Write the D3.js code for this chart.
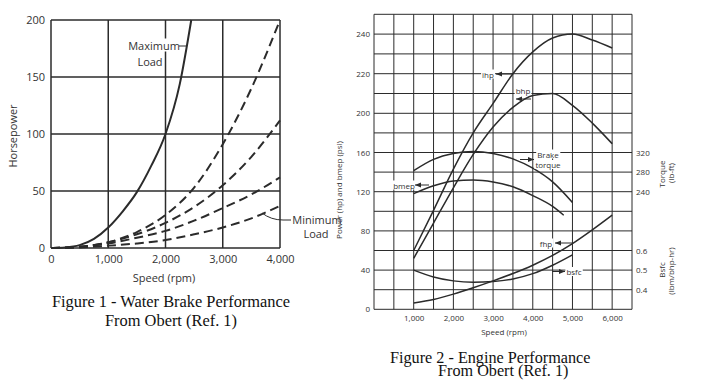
<!DOCTYPE html>
<html>
<head>
<meta charset="utf-8">
<script src="https://cdn.jsdelivr.net/npm/d3@7/dist/d3.min.js"></script>
<style>
  body { margin: 0; background: #fff; }
  svg { display: block; background: #fff; }
  .chart text { font-family: "Open Sans", sans-serif; fill: #333; }
  .caption { font-family: "Liberation Serif", "Times New Roman", serif; fill: #111; }
</style>
</head>
<body>
<svg id="fig" width="705" height="384"></svg>
<script>
// ---- Figure 1 data (water brake) ----
var wbTicksX = [0, 1000, 2000, 3000, 4000];
var wbTicksY = [0, 50, 100, 150, 200];
var maxLoadRpm = [0, 250, 500, 750, 1000, 1250, 1500, 1750, 2000, 2250, 2450];
var maxLoadHp = [0, 0.5, 2.5, 8, 18, 32, 49, 72, 100, 144, 200];
var partLoadRpm = [0, 500, 1000, 1500, 2000, 2500, 3000, 3500, 4000];
var partLoadA = [0, 1, 5, 14, 29, 53, 91, 140, 200];
var partLoadB = [0, 1, 5, 12, 22, 36, 55, 80, 112];
var partLoadC = [0, 1, 4, 9, 15, 24, 35, 47, 62];
var partLoadD = [0, 0.5, 2, 4, 7, 12, 18, 26, 37];

// ---- Figure 2 data (engine performance) ----
var engTicksX = [1000, 2000, 3000, 4000, 5000, 6000];
var powerTicks = [0, 40, 80, 120, 160, 200, 220, 240];
var torqueTicks = [240, 280, 320];
var bsfcTicks = [0.4, 0.5, 0.6];
var engRpm = [1000, 1500, 2000, 2500, 3000, 3500, 4000, 4500, 5000, 5500, 6000];
var ihp = [60, 101, 143, 180, 205, 220, 231, 238, 240, 237, 233];
var bhp = [52, 88, 124, 158, 186, 203, 209, 210, 204, 190, 169];
var fhp = [6.5, 10, 15.5, 22, 29, 36.5, 45, 55, 67, 81, 96];
var torqueRpm = [1000, 1500, 2000, 2500, 3000, 3500, 4000, 4500, 5000];
var brakeTorque = [283, 306, 318, 322, 318, 307, 288, 260, 218];
var bmepRpm = [1000, 1500, 2000, 2500, 3000, 3500, 4000, 4500, 4780];
var bmep = [118, 126, 131, 132, 130, 125, 116, 105, 96];
var bsfcRpm = [1000, 1500, 2000, 2500, 3000, 3500, 4000, 4500, 5000];
var bsfc = [0.50, 0.465, 0.445, 0.438, 0.442, 0.455, 0.482, 0.525, 0.578];

var svg = d3.select('#fig');
var ink = '#2b2b2b';

function zip(xs, ys) {
    return xs.map(function(x, i) { return [x, ys[i]]; });
}

// white box behind a label so grid lines break around it
function boxed(g, x, y, str, anchor) {
    var t = g.append('text')
        .attr('x', x).attr('y', y)
        .attr('text-anchor', anchor || 'middle')
        .attr('dominant-baseline', 'central')
        .text(str);
    var b = t.node().getBBox();
    g.insert('rect', function() { return t.node(); })
        .attr('x', b.x - 1).attr('y', b.y + 1)
        .attr('width', b.width + 2).attr('height', b.height - 2)
        .attr('fill', '#fff');
    return t;
}

function arrow(g, x1, y1, x2, y2) {
    g.append('line')
        .attr('x1', x1).attr('y1', y1).attr('x2', x2).attr('y2', y2)
        .attr('stroke', ink).attr('stroke-width', 1);
    var dir = x2 > x1 ? 1 : -1;
    g.append('path')
        .attr('d', 'M' + x2 + ',' + y2 + 'l' + (-6 * dir) + ',-2.5l0,5z')
        .attr('fill', ink);
}

// ================= Figure 1 =================
var f1 = svg.append('g').classed('chart', true);
var x1 = d3.scaleLinear().domain([0, 4000]).range([51, 280]);
var y1 = d3.scaleLinear().domain([0, 200]).range([248, 20]);

f1.append('g').selectAll('line.v')
    .data(wbTicksX).enter().append('line')
    .attr('x1', x1).attr('x2', x1)
    .attr('y1', y1(0)).attr('y2', y1(200))
    .attr('stroke', ink).attr('stroke-width', 1.5);
f1.append('g').selectAll('line.h')
    .data(wbTicksY).enter().append('line')
    .attr('x1', x1(0)).attr('x2', x1(4000))
    .attr('y1', y1).attr('y2', y1)
    .attr('stroke', ink).attr('stroke-width', 1.5);

var f1x = f1.append('g')
    .attr('transform', 'translate(0,' + y1(0) + ')')
    .call(d3.axisBottom(x1).tickValues(wbTicksX).tickFormat(d3.format(',')).tickSize(0).tickPadding(7));
var f1y = f1.append('g')
    .attr('transform', 'translate(' + x1(0) + ',0)')
    .call(d3.axisLeft(y1).tickValues(wbTicksY).tickSize(0).tickPadding(6));
[f1x, f1y].forEach(function(a) {
    a.select('.domain').remove();
    a.selectAll('text').attr('font-size', 11).attr('font-family', '"Open Sans", sans-serif').attr('fill', '#333');
});

var line1 = d3.line()
    .x(function(d) { return x1(d[0]); })
    .y(function(d) { return y1(d[1]); })
    .curve(d3.curveMonotoneX);

[partLoadA, partLoadB, partLoadC, partLoadD].forEach(function(s) {
    f1.append('path')
        .attr('d', line1(zip(partLoadRpm, s)))
        .attr('fill', 'none').attr('stroke', ink)
        .attr('stroke-width', 2).attr('stroke-dasharray', '9,5');
});
f1.append('path')
    .attr('d', line1(zip(maxLoadRpm, maxLoadHp)))
    .attr('fill', 'none').attr('stroke', ink).attr('stroke-width', 2);

f1.append('text').attr('x', 12).attr('y', 136)
    .attr('transform', 'rotate(-90,12,136)')
    .attr('text-anchor', 'middle').attr('dominant-baseline', 'central')
    .attr('font-size', 11).text('Horsepower');
f1.append('text').attr('x', 164).attr('y', 277)
    .attr('text-anchor', 'middle').attr('dominant-baseline', 'central')
    .attr('font-size', 11).text('Speed (rpm)');

// curve labels
var lab1 = f1.append('g').attr('font-size', 11);
boxed(lab1, 154, 45, 'Maximum');
lab1.append('text').attr('x', 150).attr('y', 61)
    .attr('text-anchor', 'middle').attr('dominant-baseline', 'central').text('Load');
lab1.append('line').attr('x1', 179).attr('y1', 46).attr('x2', 187).attr('y2', 46)
    .attr('stroke', ink).attr('stroke-width', 1);
lab1.append('text').attr('x', 317).attr('y', 219.5)
    .attr('text-anchor', 'middle').attr('dominant-baseline', 'central').text('Minimum');
lab1.append('text').attr('x', 316).attr('y', 233.5)
    .attr('text-anchor', 'middle').attr('dominant-baseline', 'central').text('Load');
lab1.append('path').attr('d', 'M262,213 Q271,220 283,220 L291,220')
    .attr('fill', 'none').attr('stroke', ink).attr('stroke-width', 1);

// ================= Figure 2 =================
var f2 = svg.append('g').classed('chart', true);
var x2 = d3.scaleLinear().domain([0, 6500]).range([374, 632]);
var y2 = d3.scaleLinear().domain([0, 200, 250]).range([309.3, 113.3, 14.3]);
var yTorque = d3.scaleLinear().domain([240, 320]).range([y2(120), y2(160)]);
var yBsfc = d3.scaleLinear().domain([0.4, 0.6]).range([y2(20), y2(60)]);

var gridRpm = d3.range(0, 6501, 500);
var gridPower = d3.range(0, 200, 20).concat(d3.range(200, 251, 10));

f2.append('g').selectAll('line')
    .data(gridRpm).enter().append('line')
    .attr('x1', x2).attr('x2', x2)
    .attr('y1', y2(0)).attr('y2', y2(250))
    .attr('stroke', ink).attr('stroke-width', 1);
f2.append('g').selectAll('line')
    .data(gridPower).enter().append('line')
    .attr('x1', x2(0)).attr('x2', x2(6500))
    .attr('y1', y2).attr('y2', y2)
    .attr('stroke', ink).attr('stroke-width', 1);

var f2x = f2.append('g')
    .attr('transform', 'translate(0,' + y2(0) + ')')
    .call(d3.axisBottom(x2).tickValues(engTicksX).tickFormat(d3.format(',')).tickSize(0).tickPadding(6));
var f2y = f2.append('g')
    .attr('transform', 'translate(' + x2(0) + ',0)')
    .call(d3.axisLeft(y2).tickValues(powerTicks).tickSize(0).tickPadding(4));
var f2t = f2.append('g')
    .attr('transform', 'translate(' + x2(6500) + ',0)')
    .call(d3.axisRight(yTorque).tickValues(torqueTicks).tickSize(0).tickPadding(4));
var f2b = f2.append('g')
    .attr('transform', 'translate(' + x2(6500) + ',0)')
    .call(d3.axisRight(yBsfc).tickValues(bsfcTicks).tickFormat(d3.format('.1f')).tickSize(0).tickPadding(4));
[f2x, f2y, f2t, f2b].forEach(function(a) {
    a.select('.domain').remove();
    a.selectAll('text').attr('font-size', 8).attr('font-family', '"Open Sans", sans-serif').attr('fill', '#333');
});

function engLine(yScale) {
    return d3.line()
        .x(function(d) { return x2(d[0]); })
        .y(function(d) { return yScale(d[1]); })
        .curve(d3.curveMonotoneX);
}
var curves = [
    [engRpm, ihp, y2],
    [engRpm, bhp, y2],
    [engRpm, fhp, y2],
    [torqueRpm, brakeTorque, yTorque],
    [bmepRpm, bmep, y2],
    [bsfcRpm, bsfc, yBsfc]
];
curves.forEach(function(c) {
    f2.append('path')
        .attr('d', engLine(c[2])(zip(c[0], c[1])))
        .attr('fill', 'none').attr('stroke', ink).attr('stroke-width', 1.5);
});

// axis titles
function vtext(g, x, y, str) {
    g.append('text').attr('x', 0).attr('y', 0)
        .attr('transform', 'translate(' + x + ',' + y + ') rotate(-90)')
        .attr('text-anchor', 'middle').attr('dominant-baseline', 'central')
        .attr('font-size', 8).text(str);
}
vtext(f2, 338, 190, 'Power (hp) and bmep (psi)');
vtext(f2, 661, 174, 'Torque');
vtext(f2, 670, 173, '(lb-ft)');
vtext(f2, 661, 270, 'Bsfc');
vtext(f2, 670, 271, '(lbm/bhp-hr)');
f2.append('text').attr('x', 504).attr('y', 331)
    .attr('text-anchor', 'middle').attr('dominant-baseline', 'central')
    .attr('font-size', 8).text('Speed (rpm)');

// curve labels
var lab2 = f2.append('g').attr('font-size', 8);
boxed(lab2, 488, 74, 'ihp');
arrow(lab2, 513, 74, 496, 74);
boxed(lab2, 523, 90, 'bhp');
arrow(lab2, 531, 99, 516, 99);
boxed(lab2, 548, 154, 'Brake');
boxed(lab2, 548, 164.5, 'torque');
arrow(lab2, 520, 159.5, 534, 159.5);
boxed(lab2, 404, 185, 'bmep');
arrow(lab2, 429, 185, 415, 185);
boxed(lab2, 546, 243, 'fhp');
arrow(lab2, 572, 243, 555, 243);
boxed(lab2, 574, 271.5, 'bsfc');
arrow(lab2, 552, 271.5, 565, 271.5);

// ================= captions =================
svg.append('text').classed('caption', true)
    .attr('x', 171).attr('y', 306.5).attr('text-anchor', 'middle')
    .attr('font-size', 16.4).text('Figure 1 - Water Brake Performance');
svg.append('text').classed('caption', true)
    .attr('x', 171).attr('y', 325.5).attr('text-anchor', 'middle')
    .attr('font-size', 16.4).text('From Obert (Ref. 1)');
svg.append('text').classed('caption', true)
    .attr('x', 390).attr('y', 362.5)
    .attr('font-size', 16.2).text('Figure 2 - Engine Performance');
svg.append('text').classed('caption', true)
    .attr('x', 438).attr('y', 376)
    .attr('font-size', 16.2).text('From Obert (Ref. 1)');
</script>
</body>
</html>
